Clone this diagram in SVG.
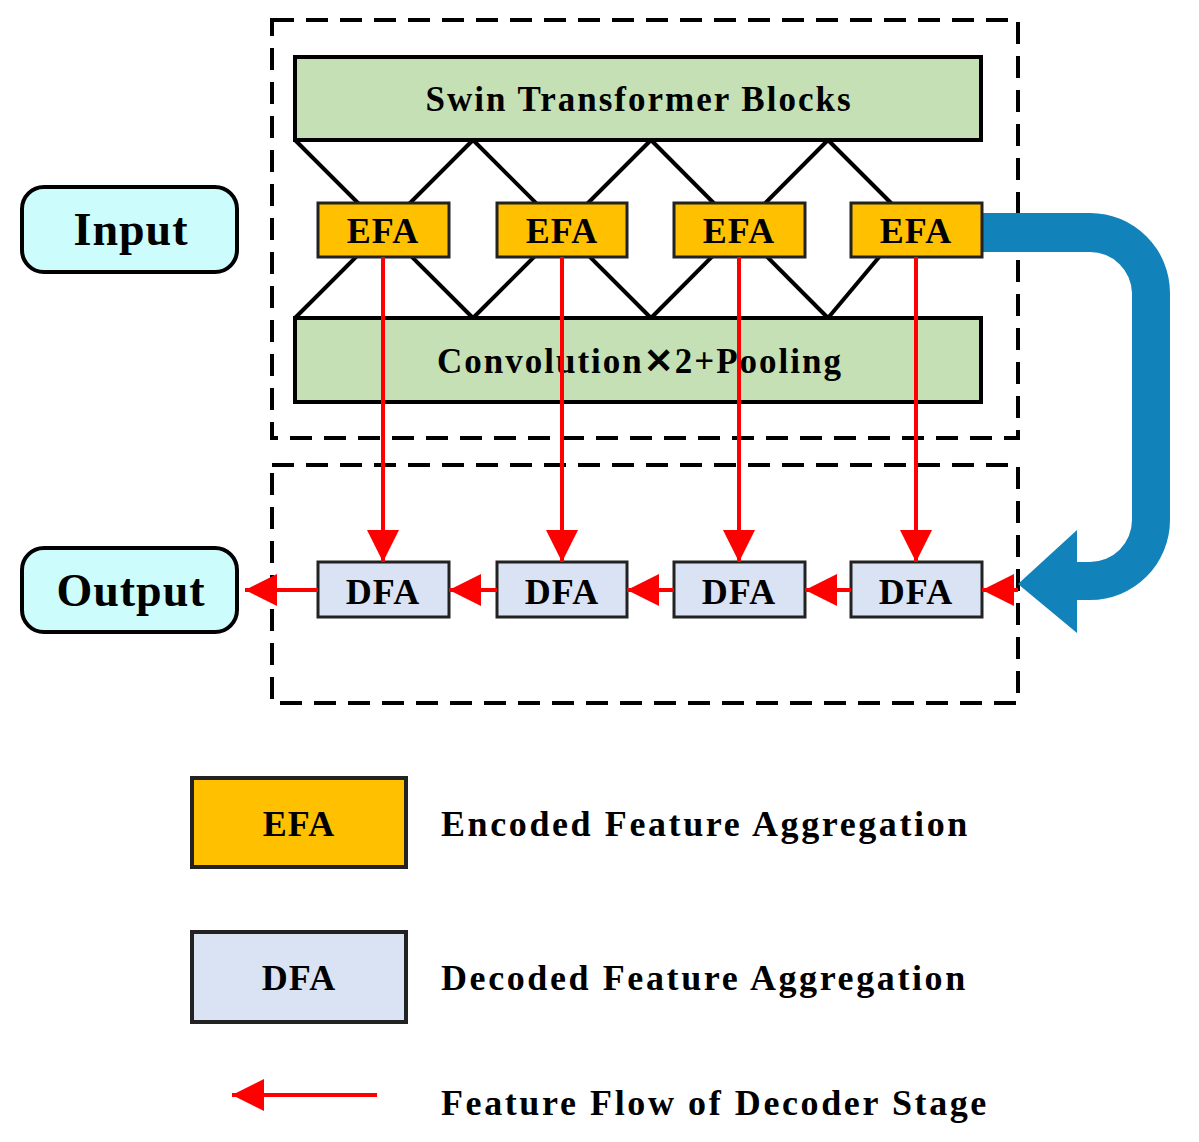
<svg xmlns="http://www.w3.org/2000/svg" width="1199" height="1142" viewBox="0 0 1199 1142">
<style>
text{font-family:"Liberation Serif","Times New Roman",serif;font-weight:bold;fill:#000;text-anchor:middle}
.blk{stroke:#000;stroke-width:4}
.efa{fill:#ffc000;stroke:#222;stroke-width:3}
.dfa{fill:#dae3f3;stroke:#222;stroke-width:3}
.red{stroke:#ff0000;stroke-width:4;fill:none}
.dash{fill:none;stroke:#000;stroke-width:4;stroke-dasharray:22,12}
.lg{text-anchor:start;letter-spacing:2.6px}
</style>
<defs>
<marker id="ah2" viewBox="0 0 32 32" refX="32" refY="16" markerWidth="32" markerHeight="32" markerUnits="userSpaceOnUse" orient="auto">
<path d="M0,0 L32,16 L0,32 Z" fill="#ff0000"/>
</marker>
</defs>
<rect class="dash" x="272" y="20" width="746" height="418"/>
<rect class="dash" x="272" y="465" width="746" height="238"/>
<g id="connectors">
<g class="blk">
<line x1="295" y1="140" x2="473" y2="318"/><line x1="473" y1="140" x2="295" y2="318"/>
<line x1="473" y1="140" x2="651" y2="318"/><line x1="651" y1="140" x2="473" y2="318"/>
<line x1="651" y1="140" x2="828" y2="318"/><line x1="828" y1="140" x2="651" y2="318"/>
<line x1="828" y1="140" x2="893" y2="205"/><line x1="828" y1="318" x2="880" y2="256"/>
</g>
<path d="M982,213 H1090 A80,80 0 0 1 1170,293 V520 A80,80 0 0 1 1090,600 H1077 V633 L1018,584 L1077,530 V562 H1090 A42,42 0 0 0 1132,520 V293 A42,42 0 0 0 1090,252 H982 Z" fill="#1282bb"/>
</g>
<g id="swin"><rect x="295" y="57" width="686" height="83" fill="#c5e0b4" class="blk"/><text x="639" y="111" font-size="35" letter-spacing="2">Swin Transformer Blocks</text></g>
<g id="conv"><rect x="295" y="318" width="686" height="84" fill="#c5e0b4" class="blk"/><text x="640" y="373" font-size="35" letter-spacing="2">Convolution✕2+Pooling</text></g>
<g id="efa1"><rect class="efa" x="318" y="203" width="131" height="54"/><text x="383" y="243" font-size="36" letter-spacing="1">EFA</text></g>
<g id="efa2"><rect class="efa" x="497" y="203" width="130" height="54"/><text x="562" y="243" font-size="36" letter-spacing="1">EFA</text></g>
<g id="efa3"><rect class="efa" x="674" y="203" width="131" height="54"/><text x="739" y="243" font-size="36" letter-spacing="1">EFA</text></g>
<g id="efa4"><rect class="efa" x="851" y="203" width="131" height="54"/><text x="916" y="243" font-size="36" letter-spacing="1">EFA</text></g>
<g id="dfa1"><rect class="dfa" x="318" y="562" width="131" height="55"/><text x="383" y="604" font-size="36" letter-spacing="1">DFA</text></g>
<g id="dfa2"><rect class="dfa" x="497" y="562" width="130" height="55"/><text x="562" y="604" font-size="36" letter-spacing="1">DFA</text></g>
<g id="dfa3"><rect class="dfa" x="674" y="562" width="131" height="55"/><text x="739" y="604" font-size="36" letter-spacing="1">DFA</text></g>
<g id="dfa4"><rect class="dfa" x="851" y="562" width="131" height="55"/><text x="916" y="604" font-size="36" letter-spacing="1">DFA</text></g>
<g id="input"><rect x="22" y="187" width="215" height="85" rx="22" fill="#ccfcfc" class="blk"/><text x="131" y="245" font-size="46" letter-spacing="1">Input</text></g>
<g id="output"><rect x="22" y="548" width="215" height="84" rx="22" fill="#ccfcfc" class="blk"/><text x="131" y="606" font-size="46" letter-spacing="1">Output</text></g>
<g id="red-arrows" class="red">
<line x1="383" y1="257" x2="383" y2="562" marker-end="url(#ah2)"/>
<line x1="562" y1="257" x2="562" y2="562" marker-end="url(#ah2)"/>
<line x1="739" y1="257" x2="739" y2="562" marker-end="url(#ah2)"/>
<line x1="916" y1="257" x2="916" y2="562" marker-end="url(#ah2)"/>
<line x1="1018" y1="590" x2="982" y2="590" marker-end="url(#ah2)"/>
<line x1="851" y1="590" x2="805" y2="590" marker-end="url(#ah2)"/>
<line x1="674" y1="590" x2="627" y2="590" marker-end="url(#ah2)"/>
<line x1="497" y1="590" x2="449" y2="590" marker-end="url(#ah2)"/>
<line x1="318" y1="590" x2="245" y2="590" marker-end="url(#ah2)"/>
<line x1="377" y1="1095" x2="232" y2="1095" marker-end="url(#ah2)"/>
</g>
<g id="legend">
<rect class="efa" x="192" y="778" width="214" height="89" style="stroke-width:4"/><text x="299" y="836" font-size="36" letter-spacing="1">EFA</text>
<rect class="dfa" x="192" y="932" width="214" height="90" style="stroke-width:4"/><text x="299" y="990" font-size="36" letter-spacing="1">DFA</text>
<text class="lg" x="441" y="836" font-size="36">Encoded Feature Aggregation</text>
<text class="lg" x="441" y="990" font-size="36">Decoded Feature Aggregation</text>
<text class="lg" x="441" y="1115" font-size="36">Feature Flow of Decoder Stage</text>
</g>
</svg>
